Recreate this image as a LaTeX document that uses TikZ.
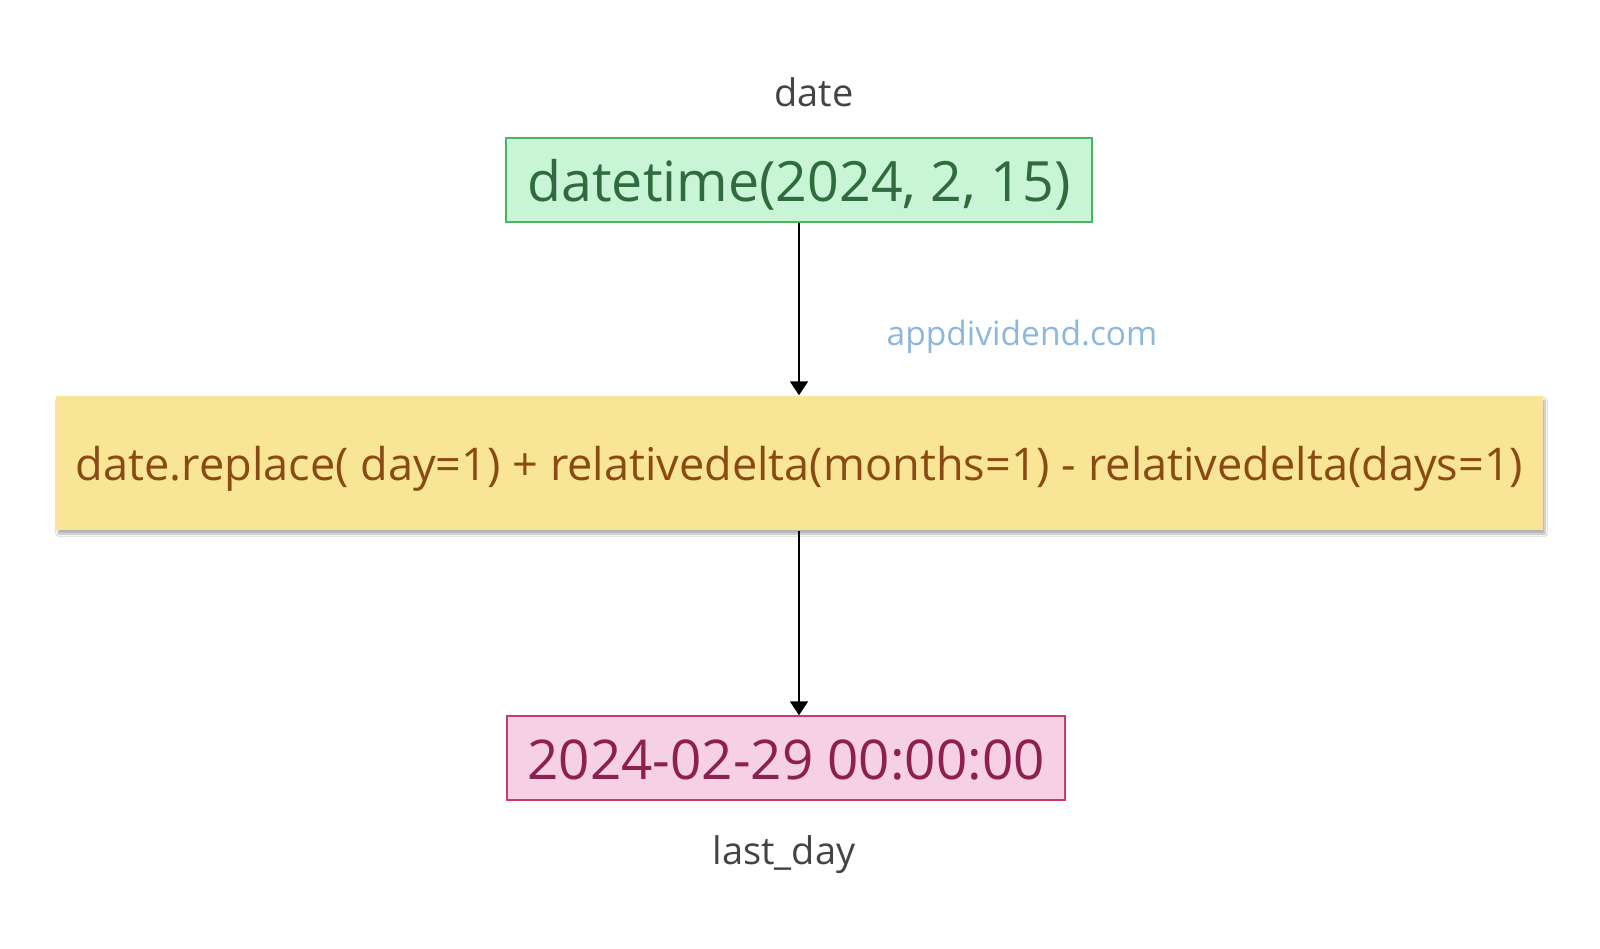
\documentclass[tikz,border=0pt]{standalone}
\usepackage{fontspec}
\setmainfont{Open Sans}
\usetikzlibrary{arrows.meta,shadows.blur}
\definecolor{gfill}{HTML}{C8F5D5}
\definecolor{gline}{HTML}{4CB560}
\definecolor{gtext}{HTML}{2F6B3C}
\definecolor{yfill}{HTML}{F9E596}
\definecolor{ytext}{HTML}{8A4A14}
\definecolor{pfill}{HTML}{F6D0E4}
\definecolor{pline}{HTML}{C63A72}
\definecolor{ptext}{HTML}{8E2050}
\definecolor{lbl}{HTML}{444444}
\definecolor{wm}{HTML}{8DB8DE}
\tikzset{
  box/.style={rectangle, inner sep=0pt, line width=1.5pt},
  lab/.style={text=lbl, font=\fontsize{38}{44}\selectfont, inner sep=0pt},
  conn/.style={line width=2pt, -{Triangle[length=14pt,width=18pt]}},
}
\begin{document}
\begin{tikzpicture}[x=1pt,y=-1pt]
\useasboundingbox (0,0) rectangle (1600,949);
\fill[white] (0,0) rectangle (1600,949);
\node[box, draw=gline, fill=gfill, minimum width=586pt, minimum height=84pt,
      text height=53pt, text depth=10pt,
      text=gtext, font=\fontsize{55.5}{60}\selectfont] (src) at (799,180) {datetime(2024, 2, 15)};
\node[box, fill=yfill, minimum width=1487pt, minimum height=134pt,
      text height=44pt, text depth=10pt,
      blur shadow={shadow xshift=2pt, shadow yshift=-4pt, shadow blur steps=6, shadow opacity=30},
      text=ytext, font=\fontsize{45.1}{50}\selectfont] (op) at (799.5,463) {date.replace( day=1) + relativedelta(months=1) - relativedelta(days=1)};
\node[box, draw=pline, fill=pfill, minimum width=558pt, minimum height=84pt,
      text height=53pt, text depth=10pt,
      text=ptext, font=\fontsize{54.8}{60}\selectfont] (res) at (786,758) {2024-02-29 00:00:00};
\node[lab, anchor=base] (ldate) at (814,107) {date};
\node[lab, anchor=base] (llast) at (784,864) {last\_day};
\node[text=wm, font=\fontsize{33.5}{40}\selectfont, inner sep=0pt, anchor=base] (wmark) at (1022,345) {appdividend.com};
\draw[conn] (src.south -| 799,0) -- (op.north -| 799,0);
\draw[conn] (op.south -| 799,0) -- (res.north -| 799,0);
\end{tikzpicture}
\end{document}
